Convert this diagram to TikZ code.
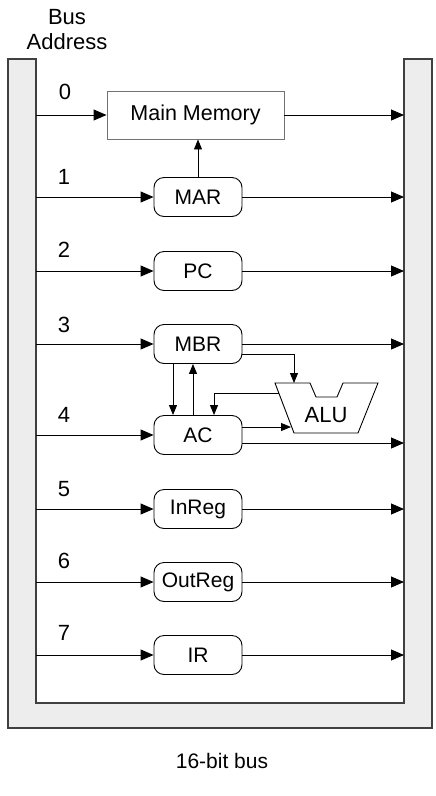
\documentclass[tikz,border=0pt]{standalone}
\usepackage{fontspec}
\setmainfont{Liberation Sans}
\usetikzlibrary{arrows.meta,shapes}
\tikzstyle{reg}=[draw,line width=0.9pt,rounded corners=10pt,minimum width=88pt,minimum height=39pt,inner sep=0pt,font=\fontsize{21}{24}\selectfont]
\tikzstyle{membox}=[draw=black!55,line width=0.9pt,minimum width=177pt,minimum height=48pt,inner sep=0pt,font=\fontsize{21.5}{24}\selectfont]
\tikzstyle{addr}=[inner sep=0pt,font=\fontsize{22}{24}\selectfont]
\tikzstyle{busedge} = [draw,line width=0.9pt,-{Triangle[length=13pt,width=11pt]}]
\tikzstyle{edge} = [draw,line width=0.9pt,-{Triangle[length=10pt,width=8pt]}]

\begin{document}
\begin{tikzpicture}[x=1pt,y=-1pt]
        \useasboundingbox (0,0) rectangle (436,796);
        % the bus
        \draw[draw=black!75,fill=black!7,line width=1.5pt] (8,59) -- (8,728) -- (432,728) -- (432,59)
          -- (404,59) -- (404,703) -- (36,703) -- (36,59) -- cycle;
        \node[align=center,inner sep=0pt,font=\fontsize{22}{25}\selectfont] (title) at (67,30) {Bus\\Address};
        \node[inner sep=0pt,font=\fontsize{21}{22}\selectfont] (caption) at (222,761) {16-bit bus};

        \node[membox] (mem) at (195.5,115) {Main Memory};
        \node[reg] (mar) at (198,197) {MAR};
        \node[reg] (pc) at (198,271) {PC};
        \node[reg] (mbr) at (198,344) {MBR};
        \node[reg] (ac) at (198,435) {AC};
        \node[reg] (inreg) at (198,509) {InReg};
        \node[reg] (outreg) at (198,582) {OutReg};
        \node[reg] (ir) at (198,655) {IR};

        \node[addr] (a0) at (65,92) {0};
        \node[addr] (a1) at (64,177) {1};
        \node[addr] (a2) at (64,250) {2};
        \node[addr] (a3) at (64,325) {3};
        \node[addr] (a4) at (64,415) {4};
        \node[addr] (a5) at (64,489) {5};
        \node[addr] (a6) at (64,561) {6};
        \node[addr] (a7) at (64,633) {7};

        % ALU
        \draw[line width=0.9pt] (275,383) -- (310,383) -- (316,397) -- (337,397) -- (343,383)
          -- (378,383) -- (358,433) -- (294,433) -- cycle;
        \node[inner sep=0pt,font=\fontsize{22}{24}\selectfont] (alu) at (326,415) {ALU};
        \coordinate (aluA) at (294,383);
        \coordinate (aluB) at (291,427);
        \coordinate (aluC) at (279,393);

        % bus taps
        \coordinate (l0) at (36,115);
        \coordinate (l1) at (36,197);
        \coordinate (l2) at (36,271);
        \coordinate (l3) at (36,344);
        \coordinate (l4) at (36,435);
        \coordinate (l5) at (36,509);
        \coordinate (l6) at (36,582);
        \coordinate (l7) at (36,655);
        \coordinate (r0) at (404,115);
        \coordinate (r1) at (404,197);
        \coordinate (r2) at (404,271);
        \coordinate (r3) at (404,344);
        \coordinate (r4) at (404,443);
        \coordinate (r5) at (404,509);
        \coordinate (r6) at (404,582);
        \coordinate (r7) at (404,655);

        \draw[busedge] (l0) -- (mem);
        \draw[busedge] (mem) -- (r0);
        \draw[busedge] (l1) -- (mar);
        \draw[busedge] (mar) -- (r1);
        \draw[busedge] (l2) -- (pc);
        \draw[busedge] (pc) -- (r2);
        \draw[busedge] (l3) -- (mbr);
        \draw[busedge] (mbr) -- (r3);
        \draw[busedge] (l4) -- (ac);
        \draw[busedge] ([yshift=-8pt]ac.east) -- (r4);
        \draw[busedge] (l5) -- (inreg);
        \draw[busedge] (inreg) -- (r5);
        \draw[busedge] (l6) -- (outreg);
        \draw[busedge] (outreg) -- (r6);
        \draw[busedge] (l7) -- (ir);
        \draw[busedge] (ir) -- (r7);

        \draw[edge] (mar.north) -- (mar.north |- mem.south);
        \draw[edge] ([yshift=-10pt]mbr.east) -| (aluA);
        \draw[edge] ([xshift=-25pt]mbr.south) -- ([xshift=-25pt]ac.north);
        \draw[edge] ([xshift=-5pt]ac.north) -- ([xshift=-5pt]mbr.south);
        \draw[edge] (aluC) -| ([xshift=16pt]ac.north);
        \draw[edge] ([yshift=8pt]ac.east) -- (aluB);
\end{tikzpicture}
\end{document}
